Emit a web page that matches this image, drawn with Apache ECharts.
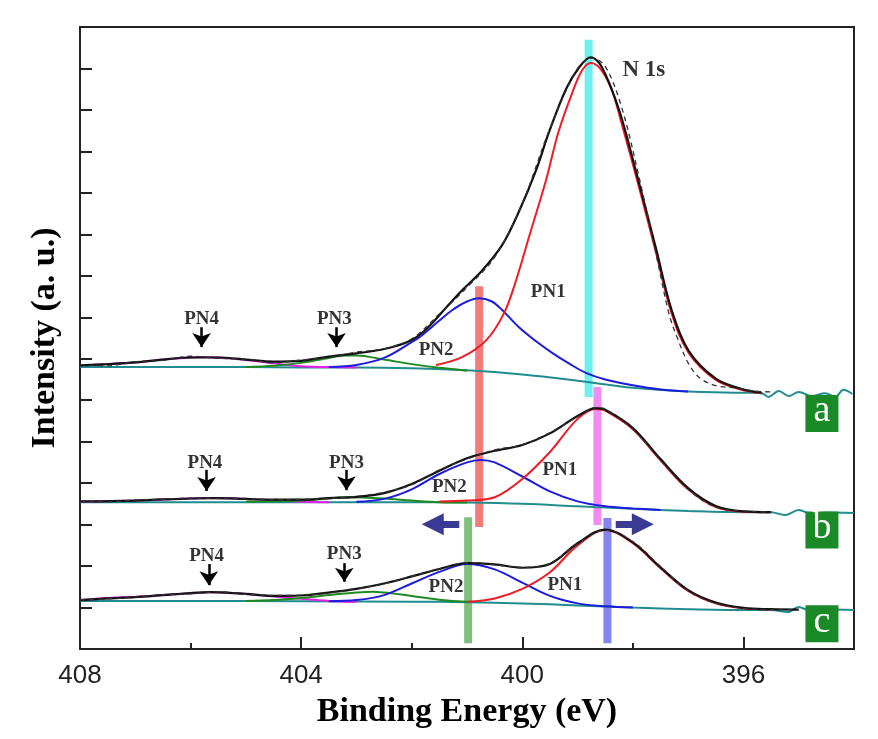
<!DOCTYPE html>
<html lang="en">
<head>
<meta charset="UTF-8">
<title>N 1s</title>
<script src="https://cdn.jsdelivr.net/npm/echarts@6/dist/echarts.min.js"></script>
<style>
    html, body {margin: 0; padding: 0; background: #fff;}
    #main {width: 878px; height: 739px;}
</style>
</head>
<body>
<div id="main"></div>
<script>
    // axis ticks
    var tickLabels = [396, 400, 404, 408];
    var majorTicks = [396, 400, 404];
    var minorTicks = [398, 402, 406];

    // ---- spectrum a (top) ----
    var bgA = [[408, 6.80], [407, 6.80], [406, 6.80], [405, 6.80], [404, 6.79], [403, 6.79], [402, 6.77], [401, 6.72], [400, 6.62], [399, 6.47], [398, 6.30], [397, 6.21], [396, 6.18],
        [395.67, 6.17], [395.55, 6.08], [395.36, 6.22], [395.18, 6.10], [395.0, 6.20], [394.77, 6.10], [394.52, 6.17], [394.34, 6.08], [394.19, 6.25], [394.03, 6.15]];
    var pn4A = [[408, 6.84], [407.5, 6.87], [407, 6.91], [406.5, 6.98], [406, 7.03], [405.75, 7.04], [405.5, 7.03], [405, 6.97], [404.5, 6.89], [404, 6.82], [403.5, 6.80], [403, 6.79]];
    var pn3A = [[405, 6.80], [404.5, 6.83], [404, 6.90], [403.5, 7.02], [403.2, 7.08], [403, 7.08], [402.5, 6.98], [402, 6.87], [401.5, 6.78], [401, 6.71]];
    var pn2A = [[403.5, 6.80], [403, 6.85], [402.5, 7.02], [402, 7.40], [401.86, 7.52], [401.5, 7.92], [401.27, 8.17], [401, 8.38], [400.78, 8.46], [400.55, 8.38], [400.36, 8.17],
        [400.06, 7.76], [399.75, 7.42], [399.46, 7.14], [399.15, 6.88], [398.85, 6.66], [398.5, 6.50], [398, 6.36], [397.5, 6.26], [397, 6.21]];
    var pn1A = [[401.56, 6.85], [401.09, 7.04], [400.65, 7.45], [400.33, 8.10], [400.11, 8.90], [399.88, 9.93], [399.57, 11.31], [399.35, 12.45], [399.1, 13.40], [398.92, 13.95],
        [398.76, 14.13], [398.58, 13.98], [398.38, 13.48], [398.22, 12.76], [397.89, 11.14], [397.58, 9.55], [397.30, 8.10], [396.99, 7.14], [396.50, 6.49], [396.03, 6.25], [395.67, 6.17]];
    var fitA = [[408, 6.84], [407.5, 6.87], [407, 6.91], [406.5, 6.98], [406, 7.03], [405.5, 7.03], [405, 6.98], [404.5, 6.93], [404, 6.95], [403.5, 7.05], [403, 7.13], [402.58, 7.21],
        [402.3, 7.30], [402.0, 7.45], [401.75, 7.70], [401.5, 8.05], [401.14, 8.58], [400.73, 9.12], [400.36, 9.75], [400.06, 10.55], [399.75, 11.55], [399.52, 12.45], [399.21, 13.50],
        [398.97, 14.03], [398.76, 14.27], [398.56, 14.03], [398.25, 13.0], [397.95, 11.55], [397.58, 9.65], [397.30, 8.18], [396.99, 7.19], [396.50, 6.52], [396.03, 6.27], [395.67, 6.18]];
    var rawA = [[408, 6.86], [407.5, 6.83], [407, 6.93], [406.5, 6.96], [406, 7.06], [405.5, 7.01], [405, 6.99], [404.5, 6.90], [404, 6.97], [403.5, 7.03], [403, 7.16], [402.5, 7.24],
        [402, 7.48], [401.5, 8.08], [401, 8.72], [400.5, 9.45], [400, 10.75], [399.5, 12.55], [399, 14.00], [398.75, 14.25], [398.5, 14.05], [398.2, 13.05], [397.9, 11.45], [397.6, 9.65],
        [397.35, 8.10], [397.2, 7.52], [397.0, 6.90], [396.8, 6.55], [396.5, 6.35], [396.1, 6.29], [395.8, 6.22], [395.5, 6.20]];

    // ---- spectrum b (middle) ----
    var bgB = [[408, 3.54], [406, 3.54], [404, 3.54], [402, 3.54], [401, 3.53], [400, 3.50], [399, 3.44], [398, 3.38], [397, 3.33], [396, 3.30],
        [395.5, 3.30], [395.25, 3.23], [395.0, 3.35], [394.77, 3.26], [394.5, 3.29], [394, 3.28]];
    var pn4B = [[408, 3.55], [407, 3.58], [406, 3.63], [405.7, 3.64], [405, 3.62], [404.5, 3.58], [404, 3.55], [403.5, 3.54]];
    var pn3B = [[405, 3.55], [404, 3.58], [403.5, 3.63], [403.2, 3.66], [402.5, 3.63], [402, 3.58], [401.5, 3.54], [401, 3.53]];
    var pn2B = [[403, 3.55], [402.5, 3.62], [402, 3.85], [401.5, 4.22], [401, 4.50], [400.75, 4.56], [400.5, 4.50], [400, 4.16], [399.5, 3.80], [399, 3.56], [398.5, 3.44], [398, 3.39], [397.5, 3.35]];
    var pn1B = [[401.5, 3.56], [401, 3.58], [400.5, 3.66], [400, 4.10], [399.5, 4.75], [399, 5.55], [398.67, 5.79], [398.5, 5.75], [398, 5.30], [397.5, 4.55], [397, 3.85], [396.5, 3.42], [396, 3.31], [395.5, 3.30]];
    var fitB = [[408, 3.56], [407, 3.58], [406, 3.63], [405.5, 3.64], [405, 3.62], [404.5, 3.60], [404, 3.60], [403.5, 3.64], [403, 3.67], [402.5, 3.76], [402, 3.98], [401.5, 4.30], [401, 4.60],
        [400.5, 4.78], [400, 4.92], [399.5, 5.20], [399, 5.62], [398.67, 5.81], [398.5, 5.77], [398, 5.33], [397.5, 4.58], [397, 3.88], [396.5, 3.45], [396, 3.32], [395.5, 3.30]];
    var rawB = [[408, 3.57], [407.5, 3.55], [407, 3.59], [406.5, 3.61], [406, 3.64], [405.5, 3.63], [405, 3.63], [404.5, 3.60], [404, 3.61], [403.5, 3.63], [403, 3.68], [402.5, 3.78], [402, 3.96],
        [401.5, 4.32], [401, 4.58], [400.5, 4.80], [400, 4.93], [399.5, 5.22], [399, 5.60], [398.67, 5.82], [398.5, 5.78], [398, 5.30], [397.5, 4.55], [397, 3.85], [396.5, 3.42], [396, 3.33], [395.5, 3.30]];

    // ---- spectrum c (bottom) ----
    var bgC = [[408, 1.16], [406, 1.16], [404, 1.15], [402, 1.14], [401, 1.13], [400, 1.10], [399, 1.05], [398, 1.00], [397, 0.96], [396, 0.94],
        [395.5, 0.94], [395.2, 0.89], [395.0, 1.01], [394.8, 0.93], [394.5, 0.95], [394, 0.94]];
    var pn4C = [[408, 1.18], [407.5, 1.23], [407, 1.26], [406.5, 1.30], [406, 1.34], [405.65, 1.37], [405.25, 1.35], [404.6, 1.28], [404, 1.21], [403.5, 1.16], [403, 1.14]];
    var pn3C = [[405, 1.16], [404.5, 1.18], [404, 1.23], [403.5, 1.30], [403, 1.36], [402.7, 1.38], [402.5, 1.36], [402, 1.28], [401.5, 1.19], [401, 1.14]];
    var pn2C = [[403.5, 1.15], [403, 1.18], [402.5, 1.30], [402, 1.58], [401.5, 1.86], [401, 2.05], [400.5, 1.92], [400, 1.60], [399.5, 1.28], [399, 1.10], [398.5, 1.03], [398, 1.00]];
    var pn1C = [[401, 1.14], [400.5, 1.22], [400, 1.45], [399.5, 1.85], [399, 2.50], [398.5, 2.87], [398, 2.55], [397.5, 1.95], [397, 1.40], [396.5, 1.10], [396, 0.98], [395.5, 0.95]];
    var fitC = [[408, 1.18], [407.5, 1.22], [407, 1.25], [406.5, 1.30], [406, 1.35], [405.65, 1.37], [405, 1.33], [404.5, 1.28], [404, 1.29], [403.5, 1.36], [403, 1.45], [402.5, 1.58], [402, 1.75],
        [401.5, 1.93], [401, 2.07], [400.5, 2.04], [400, 1.96], [399.5, 2.05], [399, 2.55], [398.5, 2.88], [398, 2.57], [397.5, 1.97], [397, 1.42], [396.5, 1.12], [396, 0.99], [395.5, 0.96], [395, 0.95]];
    var rawC = [[408, 1.19], [407.5, 1.21], [407, 1.25], [406.5, 1.31], [406, 1.33], [405.5, 1.38], [405, 1.32], [404.5, 1.29], [404, 1.30], [403.5, 1.35], [403, 1.46], [402.5, 1.57], [402, 1.76],
        [401.5, 1.92], [401, 2.08], [400.5, 2.03], [400, 1.97], [399.5, 2.07], [399, 2.53], [398.5, 2.87], [398, 2.59], [397.5, 1.99], [397, 1.40], [396.5, 1.10], [396, 0.98], [395.5, 0.95], [395, 0.95]];

    // peak-position bars: [energy, from, to, color]
    var bars = [
        [398.80, 6.08, 14.69, '#6EF0F0'],
        [400.78, 2.94, 8.75, '#F57A7A'],
        [398.64, 2.99, 6.32, '#F28CF2'],
        [400.98, 0.14, 3.18, '#7FC07F'],
        [398.46, 0.14, 3.16, '#8484F2']
    ];
    // shift arrows: [from E, to E, level]
    var shiftArrows = [[401.14, 401.62, 3.01], [398.31, 397.82, 3.01]];
    // small down arrows: [E, top, head]
    var downArrows = [[405.80, 7.76, 7.28], [403.36, 7.76, 7.28], [405.71, 4.32, 3.81], [403.18, 4.32, 3.83], [405.67, 2.05, 1.54], [403.22, 2.07, 1.62]];
    // text labels
    var peakLabels = [
        ['PN4', 405.80, 7.96], ['PN3', 403.40, 7.96], ['PN2', 401.56, 7.21], ['PN1', 399.53, 8.61],
        ['PN4', 405.74, 4.48], ['PN3', 403.18, 4.48], ['PN2', 401.32, 3.91], ['PN1', 399.32, 4.32],
        ['PN4', 405.71, 2.24], ['PN3', 403.22, 2.29], ['PN2', 401.38, 1.50], ['PN1', 399.23, 1.54]
    ];
    var sampleBoxes = [['a', 394.58, 5.68], ['b', 394.58, 2.87], ['c', 394.58, 0.61]];

    var RED = '#EE1C24', BLUE = '#1C1CE0', GREEN = '#1F8A1F', MAGENTA = '#E620E6', TEAL = '#218C8E', BLACK = '#111';

    function curve(data, color, width, z) {
        return {
            type: 'line', data: data, smooth: 0.35, showSymbol: false, silent: true, z: z,
            lineStyle: {color: color, width: width}
        };
    }

    var series = [];
    // bars behind the curves
    bars.forEach(function (b) {
        series.push({
            type: 'line', data: [[b[0], b[1]], [b[0], b[2]]], showSymbol: false, z: 1, silent: true,
            lineStyle: {color: b[3], width: 8, cap: 'butt'}
        });
    });
    [[bgA, pn4A, pn3A, pn2A, pn1A, fitA, rawA], [bgB, pn4B, pn3B, pn2B, pn1B, fitB, rawB], [bgC, pn4C, pn3C, pn2C, pn1C, fitC, rawC]].forEach(function (s) {
        series.push(curve(s[0], TEAL, 2, 2));
        series.push(curve(s[1], MAGENTA, 2, 3));
        series.push(curve(s[2], GREEN, 2, 3));
        series.push(curve(s[3], BLUE, 2, 3));
        series.push(curve(s[4], RED, 2, 3));
        series.push(curve(s[5], BLACK, 2.2, 4));
        var raw = curve(s[6], '#333', 1.3, 5);
        raw.lineStyle.type = [5, 4];
        series.push(raw);
    });

    // arrows
    series.push({
        type: 'line', data: [], z: 6,
        markLine: {
            silent: true, animation: false, symbol: ['none', 'triangle'], symbolSize: 22,
            label: {show: false},
            lineStyle: {color: '#3A3A95', width: 7, type: 'solid'},
            data: shiftArrows.map(function (a) {
                return [{coord: [a[0], a[2]]}, {coord: [a[1], a[2]]}];
            })
        }
    });
    series.push({
        type: 'line', data: [], z: 6,
        markLine: {
            silent: true, animation: false, symbol: ['none', 'arrow'], symbolSize: 14,
            label: {show: false},
            lineStyle: {color: '#000', width: 2.5, type: 'solid'},
            data: downArrows.map(function (a) {
                return [{coord: [a[0], a[1]]}, {coord: [a[0], a[2]]}];
            })
        }
    });

    // labels
    series.push({
        type: 'scatter', symbolSize: 1, z: 7, silent: true,
        itemStyle: {color: 'rgba(0,0,0,0)'},
        label: {
            show: true, position: 'inside', formatter: '{b}',
            fontFamily: 'Liberation Serif', fontWeight: 'bold', fontSize: 19, color: '#000'
        },
        data: peakLabels.map(function (p) {
            return {name: p[0], value: [p[1], p[2]]};
        }).concat([{
            name: 'N 1s', value: [397.80, 13.96],
            label: {fontSize: 23}
        }])
    });
    series.push({
        type: 'scatter', symbol: 'rect', symbolSize: [33, 37], z: 7, silent: true,
        itemStyle: {color: '#1A8A28', opacity: 1},
        label: {
            show: true, position: 'inside', formatter: '{b}', offset: [0, -2],
            fontFamily: 'Liberation Serif', fontSize: 38, color: '#fff'
        },
        data: sampleBoxes.map(function (p) {
            return {name: p[0], value: [p[1], p[2]]};
        })
    });

    var axisColor = '#222';
    var option = {
        animation: false,
        backgroundColor: '#fff',
        grid: {left: 80, top: 27, right: 24, bottom: 90, show: true, borderColor: axisColor, borderWidth: 2, backgroundColor: 'transparent'},
        xAxis: [{
            type: 'value', min: 394, max: 408, inverse: true, position: 'bottom',
            axisLine: {show: true, onZero: false, lineStyle: {color: axisColor, width: 2}},
            axisTick: {show: true, inside: true, length: 12, customValues: majorTicks, lineStyle: {color: axisColor, width: 2}},
            axisLabel: {customValues: tickLabels, fontFamily: 'Liberation Sans', fontSize: 26, color: '#222', margin: 14},
            splitLine: {show: false},
            name: 'Binding Energy (eV)', nameLocation: 'middle', nameGap: 46,
            nameTextStyle: {fontFamily: 'Liberation Serif', fontWeight: 'bold', fontSize: 34, color: '#000'}
        }, {
            type: 'value', min: 394, max: 408, inverse: true, position: 'bottom',
            axisLine: {show: false},
            axisTick: {show: true, inside: true, length: 6, customValues: minorTicks, lineStyle: {color: axisColor, width: 2}},
            axisLabel: {show: false},
            splitLine: {show: false}
        }],
        yAxis: {
            type: 'value', min: 0, max: 15, interval: 1,
            axisLine: {show: true, lineStyle: {color: axisColor, width: 2}},
            axisTick: {show: true, inside: true, length: 12, lineStyle: {color: axisColor, width: 2}},
            axisLabel: {show: false},
            splitLine: {show: false},
            name: 'Intensity (a. u.)', nameLocation: 'middle', nameGap: 18,
            nameTextStyle: {fontFamily: 'Liberation Serif', fontWeight: 'bold', fontSize: 34, color: '#000'}
        },
        series: series
    };

    var myChart = echarts.init(document.getElementById('main'));
    myChart.setOption(option);
</script>
</body>
</html>
